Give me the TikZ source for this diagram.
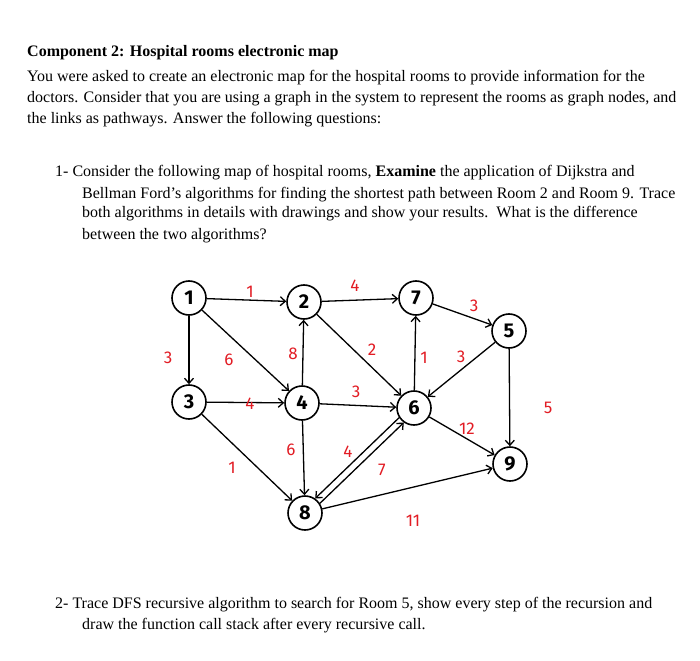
\documentclass[tikz,border=0pt]{standalone}
\usepackage{fontspec}
\setmainfont{Liberation Serif}
\newfontfamily\hand{Fira Sans}
\usetikzlibrary{arrows.meta,calc}
\definecolor{wred}{RGB}{226,28,36}
\begin{document}
\begin{tikzpicture}[x=1pt,y=-1pt,
  txt/.style={anchor=base west, inner sep=0pt, font=\fontsize{16}{21}\selectfont},
  room/.style={circle, draw, line width=1.6pt, minimum size=34pt, inner sep=0pt, font=\hand\fontsize{20}{20}\selectfont\bfseries},
  wt/.style={text=wred, font=\hand\fontsize{17}{17}\selectfont, inner sep=0pt},
  arr/.style={line width=1.3pt, -{Straight Barb[length=5pt,width=9pt]}},
  ln/.style={line width=1.3pt}
]
\fill[white] (0,0) rectangle (700,660);
\useasboundingbox (0,0) rectangle (700,660);

% texts
\node[txt, font=\fontsize{16}{21}\selectfont\bfseries] (title) at (27,57) {Component 2: Hospital rooms electronic map};
\node[txt] (p1) at (27,82) {You were asked to create an electronic map for the hospital rooms to provide information for the};
\node[txt] (p2) at (27,103) {doctors. Consider that you are using a graph in the system to represent the rooms as graph nodes, and};
\node[txt] (p3) at (27,124) {the links as pathways. Answer the following questions:};

\node[txt] (q1a) at (55,177) {1- Consider the following map of hospital rooms, \textbf{Examine} the application of Dijkstra and};
\node[txt] (q1b) at (82,198) {Bellman Ford’s algorithms for finding the shortest path between Room 2 and Room 9. Trace};
\node[txt] (q1c) at (82,218) {both algorithms in details with drawings and show your results.\ \ What is the difference};
\node[txt] (q1d) at (82,239) {between the two algorithms?};

\node[txt] (q2a) at (55,608) {2- Trace DFS recursive algorithm to search for Room 5, show every step of the recursion and};
\node[txt] (q2b) at (82,629) {draw the function call stack after every recursive call.};

% rooms
\node[room] (n1) at (189,298) {1};
\node[room] (n2) at (304,302) {2};
\node[room] (n7) at (416,298) {7};
\node[room] (n5) at (509,331) {5};
\node[room] (n3) at (189,402) {3};
\node[room] (n4) at (302,403) {4};
\node[room] (n6) at (414,408) {6};
\node[room] (n9) at (510,464) {9};
\node[room] (n8) at (305,513) {8};

% edges
\draw[arr] (n1) -- (n2);
\draw[arr] (n1) -- (n3);
\draw[arr] (n1) -- (n4);
\draw[arr] (n4) -- (n2);
\draw[arr] (n2) -- (n7);
\draw[arr] (n2) -- (n6);
\draw[arr] (n6) -- (n7);
\draw[arr] (n7) -- (n5);
\draw[arr] (n5) -- (n6);
\draw[arr] (n5) -- (n9);
\draw[arr] (n3) -- (n4);
\draw[arr] (n4) -- (n6);
\draw[arr] (n3) -- (n8);
\draw[arr] (n4) -- (n8);
\draw[arr] (n6.213) -- (n8.55);
\draw[arr] (n8.33) -- (n6.235);
\draw[arr] (n6) -- (n9);
\draw[arr] (n8) -- (n9);

% weights
\node[wt] (w12) at (250,292) {1};
\node[wt] (w13) at (168,358) {3};
\node[wt] (w14) at (229,360) {6};
\node[wt] (w42) at (293,354) {8};
\node[wt] (w27) at (355,286) {4};
\node[wt] (w26) at (372,350) {2};
\node[wt] (w67) at (424,358) {1};
\node[wt] (w75) at (474,306) {3};
\node[wt] (w56) at (461,357) {3};
\node[wt] (w59) at (548,408) {5};
\node[wt] (w34) at (250,404) {4};
\node[wt] (w46) at (356,392) {3};
\node[wt] (w38) at (232,468) {1};
\node[wt] (w48) at (291,450) {6};
\node[wt] (w68) at (348,452) {4};
\node[wt] (w86) at (382,470) {7};
\node[wt] (w69) at (467,429) {12};
\node[wt] (w89) at (413,521) {11};
\end{tikzpicture}
\end{document}
